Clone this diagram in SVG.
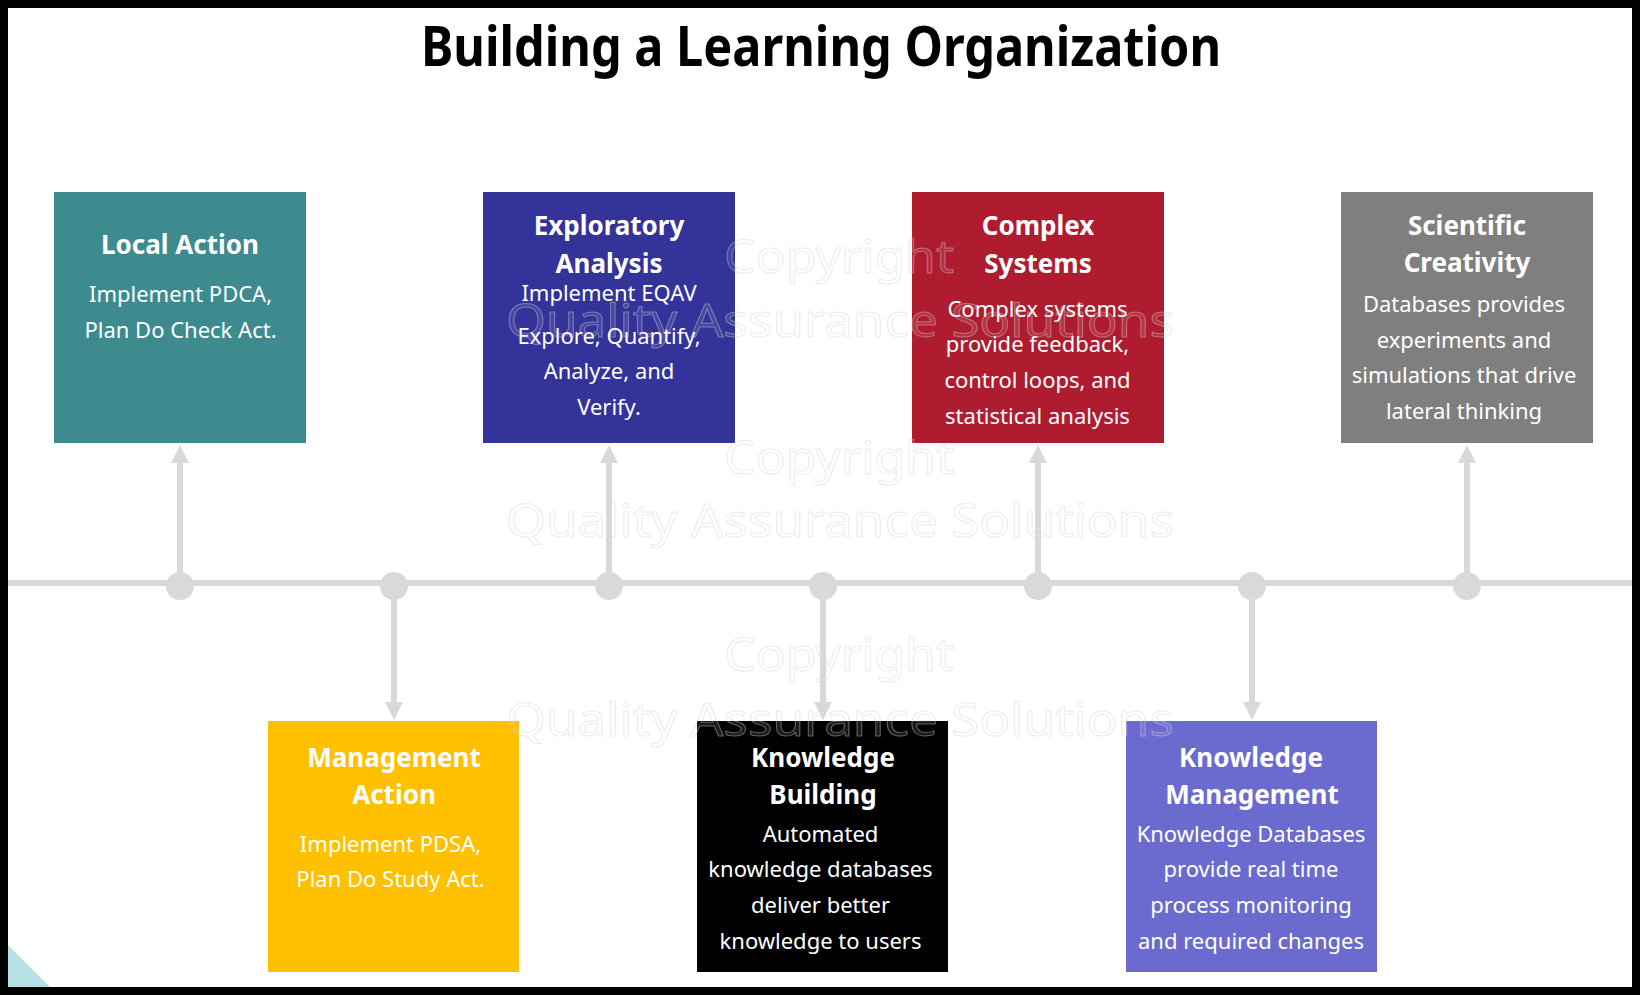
<svg xmlns="http://www.w3.org/2000/svg" width="1640" height="995" viewBox="0 0 1640 995">
<defs>
<style>
.h{font-family:"Noto Sans","Open Sans",sans-serif;font-weight:700;font-size:26px;fill:#fff;text-anchor:middle}
.b{font-family:"Noto Sans","Open Sans",sans-serif;font-weight:400;font-size:22px;fill:#fff;text-anchor:middle}
.tl{stroke:#D9D9D9;stroke-width:6;fill:none}
.dot{fill:#D9D9D9}
.wm{font-family:"Noto Sans","Open Sans",sans-serif;font-size:46px;fill:#ffffff;fill-opacity:0.1;stroke:#cfcfcf;stroke-opacity:0.42;stroke-width:1;text-anchor:middle}
</style>
<marker id="ah" viewBox="0 0 18 18" refX="8" refY="9" markerWidth="18" markerHeight="18" markerUnits="userSpaceOnUse" orient="auto">
<path d="M0,0 L18,9 L0,18 Z" fill="#D9D9D9"/>
</marker>
</defs>
<rect x="0" y="0" width="1640" height="995" fill="#000"/>
<rect x="8" y="8" width="1624" height="979" fill="#fff"/>
<polygon points="8,945 8,987 50,987" fill="#B7E1E4"/>
<text x="821" y="66" font-family="'Liberation Sans Narrow','Noto Sans',sans-serif" font-weight="700" font-size="56" text-anchor="middle" textLength="800" lengthAdjust="spacingAndGlyphs" fill="#000">Building a Learning Organization</text>

<g id="connectors">
<line class="tl" x1="8" y1="583" x2="1632" y2="583"/>
<line class="tl" x1="180" y1="586" x2="180" y2="455" marker-end="url(#ah)"/>
<line class="tl" x1="609" y1="586" x2="609" y2="455" marker-end="url(#ah)"/>
<line class="tl" x1="1038" y1="586" x2="1038" y2="455" marker-end="url(#ah)"/>
<line class="tl" x1="1467" y1="586" x2="1467" y2="455" marker-end="url(#ah)"/>
<line class="tl" x1="394" y1="586" x2="394" y2="710" marker-end="url(#ah)"/>
<line class="tl" x1="823" y1="586" x2="823" y2="710" marker-end="url(#ah)"/>
<line class="tl" x1="1252" y1="586" x2="1252" y2="710" marker-end="url(#ah)"/>
<circle class="dot" cx="180" cy="586" r="14"/>
<circle class="dot" cx="394" cy="586" r="14"/>
<circle class="dot" cx="609" cy="586" r="14"/>
<circle class="dot" cx="823" cy="586" r="14"/>
<circle class="dot" cx="1038" cy="586" r="14"/>
<circle class="dot" cx="1252" cy="586" r="14"/>
<circle class="dot" cx="1467" cy="586" r="14"/>
</g>

<g id="local-action">
<rect x="54" y="192" width="252" height="251" fill="#3D8B8F"/>
<text class="h" x="180" y="254">Local Action</text>
<text class="b" x="180.5" y="302">Implement PDCA,</text>
<text class="b" x="180.5" y="337.5">Plan Do Check Act.</text>
</g>

<g id="exploratory-analysis">
<rect x="483" y="192" width="252" height="251" fill="#333399"/>
<text class="h" x="609" y="235">Exploratory</text>
<text class="h" x="609" y="272.5">Analysis</text>
<text class="b" x="609" y="301">Implement EQAV</text>
<text class="b" x="609" y="343.5">Explore, Quantify,</text>
<text class="b" x="609" y="379">Analyze, and</text>
<text class="b" x="609" y="414.5">Verify.</text>
</g>

<g id="complex-systems">
<rect x="912" y="192" width="252" height="251" fill="#B01C2F"/>
<text class="h" x="1038" y="235">Complex</text>
<text class="h" x="1038" y="272.5">Systems</text>
<text class="b" x="1037.5" y="316.5">Complex systems</text>
<text class="b" x="1037.5" y="352.3">provide feedback,</text>
<text class="b" x="1037.5" y="388">control loops, and</text>
<text class="b" x="1037.5" y="423.7">statistical analysis</text>
</g>

<g id="scientific-creativity">
<rect x="1341" y="192" width="252" height="251" fill="#7F7F7F"/>
<text class="h" x="1467" y="235">Scientific</text>
<text class="h" x="1467" y="272">Creativity</text>
<text class="b" x="1464" y="312">Databases provides</text>
<text class="b" x="1464" y="347.6">experiments and</text>
<text class="b" x="1464" y="383.2">simulations that drive</text>
<text class="b" x="1464" y="418.8">lateral thinking</text>
</g>

<g id="management-action">
<rect x="268" y="721" width="251" height="251" fill="#FFC000"/>
<text class="h" x="394" y="766.7">Management</text>
<text class="h" x="394" y="804">Action</text>
<text class="b" x="390.5" y="851.5">Implement PDSA,</text>
<text class="b" x="390.5" y="886.8">Plan Do Study Act.</text>
</g>

<g id="knowledge-building">
<rect x="697" y="721" width="251" height="251" fill="#000000"/>
<text class="h" x="823" y="766.7">Knowledge</text>
<text class="h" x="823" y="804">Building</text>
<text class="b" x="820.5" y="841.7">Automated</text>
<text class="b" x="820.5" y="877.3">knowledge databases</text>
<text class="b" x="820.5" y="912.9">deliver better</text>
<text class="b" x="820.5" y="948.5">knowledge to users</text>
</g>

<g id="knowledge-management">
<rect x="1126" y="721" width="251" height="251" fill="#6B6BCF"/>
<text class="h" x="1251" y="766.7">Knowledge</text>
<text class="h" x="1252" y="804">Management</text>
<text class="b" x="1251" y="841.7">Knowledge Databases</text>
<text class="b" x="1251" y="877.3">provide real time</text>
<text class="b" x="1251" y="912.9">process monitoring</text>
<text class="b" x="1251" y="948.5">and required changes</text>
</g>

<g id="watermark">
<text class="wm" x="839" y="273" textLength="230" lengthAdjust="spacingAndGlyphs">Copyright</text>
<text class="wm" x="840" y="337" textLength="668" lengthAdjust="spacingAndGlyphs">Quality Assurance Solutions</text>
<text class="wm" x="839" y="474" textLength="230" lengthAdjust="spacingAndGlyphs">Copyright</text>
<text class="wm" x="840" y="537" textLength="668" lengthAdjust="spacingAndGlyphs">Quality Assurance Solutions</text>
<text class="wm" x="839" y="671" textLength="230" lengthAdjust="spacingAndGlyphs">Copyright</text>
<text class="wm" x="840" y="736" textLength="668" lengthAdjust="spacingAndGlyphs">Quality Assurance Solutions</text>
</g>
</svg>
